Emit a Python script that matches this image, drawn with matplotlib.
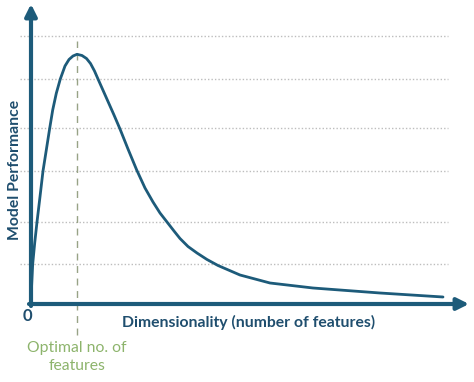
import matplotlib.pyplot as plt

# curve (x: along dimensionality axis, y: performance)
curve_x = [0, 1.7, 3.7, 6, 9, 12, 15.3, 18.7, 21.7, 25.3, 29.3, 34, 38, 42, 46,
           51, 55.5, 59.5, 63.5, 67, 71, 75, 79, 83, 89, 97, 105.7, 114, 122, 129,
           136, 143, 149, 157, 166, 176, 187, 209, 239, 282, 349, 412]
curve_y = [6, 40, 61, 82, 107.3, 133, 154, 175.7, 194, 210.7, 225, 238, 244.5, 248, 249.7,
           248.5, 245.5, 240.5, 233, 225, 216, 207, 198, 189, 175, 155, 134, 116, 102, 91,
           82, 73, 65.5, 57.5, 51, 44.5, 38.5, 29, 21, 16, 11, 7]
grid_y = [40, 82, 133, 176, 225, 268]
optimal_x = 46

axis_col = '#1d5b7a'
text_col = '#1f4e6e'
green = '#8db46c'

plt.rcParams['font.family'] = ['Lato', 'DejaVu Sans']
fig = plt.figure(figsize=(4.74, 3.82), dpi=100)
ax = fig.add_axes([0, 0, 1, 1])
ax.set_xlim(-31, 443)
ax.set_ylim(-78, 304)
ax.axis('off')

for g in grid_y:
    ax.plot([-11, 417], [g, g], color='#bdbdbd', lw=1, ls=(0, (1, 1.5)), zorder=1)

ax.plot([optimal_x, optimal_x], [-31, 263], color='#98a386', lw=1, ls=(0, (5, 4)), zorder=2)

ax.plot(curve_x, curve_y, color=axis_col, lw=2.0, solid_joinstyle='round',
        solid_capstyle='round', zorder=3)

# axes arrows
head = '-|>,head_length=0.7,head_width=0.35'
ax.annotate('', xy=(0, 300), xytext=(0, -2),
            arrowprops=dict(arrowstyle=head, color=axis_col, lw=3.0, shrinkA=0, shrinkB=0))
ax.annotate('', xy=(438, 0), xytext=(-2, 0),
            arrowprops=dict(arrowstyle=head, color=axis_col, lw=3.0, shrinkA=0, shrinkB=0))

ax.text(-4, -12, '0', color=text_col, fontsize=12, fontweight='bold', ha='center', va='center')
ax.text(218, -18, 'Dimensionality (number of features)', color=text_col, fontsize=11.3,
        fontweight='bold', ha='center', va='center')
ax.text(-16, 134, 'Model Performance', color=text_col, fontsize=11.3, fontweight='bold',
        rotation=90, ha='center', va='center')
ax.text(optimal_x, -53, 'Optimal no. of\nfeatures', color=green, fontsize=11.3, ha='center',
        va='center', linespacing=1.45)

fig.savefig('out.png', dpi=100)
